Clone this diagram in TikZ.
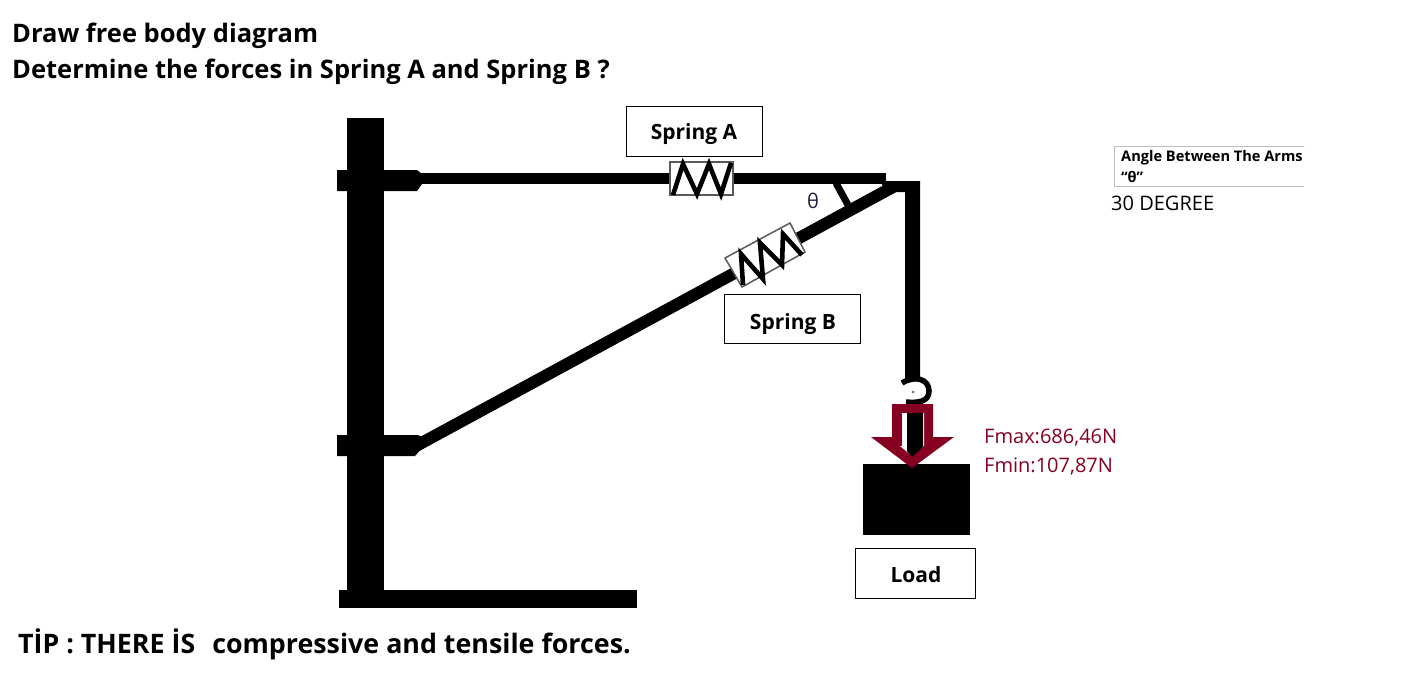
\documentclass[tikz,border=0pt]{standalone}
\usepackage{fontspec}
\setmainfont{Open Sans}
\definecolor{arrowred}{RGB}{134,0,33}
\tikzset{
  label box/.style={draw=black,line width=1pt,fill=white,font=\bfseries\fontsize{21}{25}\selectfont,text=black},
  solid part/.style={fill=black,draw=none},
  heading/.style={anchor=west,inner sep=0pt,font=\bfseries\fontsize{25.5}{30}\selectfont},
  spring box/.style={draw=black!65,line width=1.5pt,fill=white},
  coil/.style={draw=black,line width=4.6pt,line join=miter},
  force text/.style={anchor=west,inner sep=0pt,text=arrowred,font=\fontsize{20}{24}\selectfont}
}
\begin{document}
\begin{tikzpicture}[x=1pt,y=-1pt]
\useasboundingbox (0,0) rectangle (1416,672);
\node[heading] (t1) at (12,36) {Draw free body diagram};
\node[heading] (t2) at (12,72) {Determine the forces in Spring A and Spring B ?};
% frame
\fill[solid part] (347,118) rectangle (384,608);
\fill[solid part] (339,590) rectangle (637,608);
\fill[solid part] (337,170) -- (417,170) -- (422,174) -- (422,184) -- (417,191) -- (337,191) -- cycle;
\fill[solid part] (337,435) -- (417,435) -- (428,438) -- (422,448) -- (415,456) -- (337,456) -- cycle;
% upper arm
\fill[solid part] (420,173) rectangle (886,184);
% lower arm
\draw[black,line width=12pt] (416,446) -- (893,187);
% right arm
\fill[solid part] (880,181) -- (920,181) -- (920,380) -- (905,380) -- (905,192) -- (886,192) -- cycle;
% tick
\draw[black,line width=7pt] (836,183) -- (848,205);
% spring A
\draw[spring box] (670,162) rectangle (733,195);
\draw[coil] (673,195) -- (683,164) -- (697,194) -- (709,164) -- (721,194) -- (731,163);
% spring B
\draw[spring box] (725,258) -- (790,223) -- (805,252) -- (742,287) -- cycle;
\draw[coil] (743,285) -- (741,254) -- (763,279) -- (760,243) -- (782,265) -- (783,234) -- (802,255);
% hook
\draw[black,line width=5.5pt] (902,383) .. controls (915,375) and (929,379) .. (929,391) .. controls (929,402) and (918,403) .. (906,402);
\fill[black!55] (913,392) circle (1.5pt);
% load
\fill[solid part] (863,464) rectangle (970,535);
% red arrow
\fill[arrowred] (892,404) -- (933,404) -- (933,437) -- (954,437) -- (912,468) -- (871,437) -- (892,437) -- cycle;
\fill[white] (902,413) -- (924,413) -- (924,446) -- (912,456) -- (900,446) -- (902,446) -- cycle;
\fill[solid part] (907,413) -- (923,413) -- (923,447) -- (912,457) -- (907,451) -- cycle;
% labels
\node[label box,minimum width=136pt,minimum height=50pt] (sa) at (694,131) {\smash{\raisebox{-8.3pt}{Spring A}}};
\node[label box,minimum width=136pt,minimum height=49pt] (sb) at (792,319) {\hspace{2pt}\smash{\raisebox{-10.3pt}{Spring B}}};
\node[label box,minimum width=120pt,minimum height=50pt] (load) at (915,573) {\hspace{2pt}\smash{\raisebox{-9.5pt}{Load}}};
\node[inner sep=0pt,font=\fontsize{20}{24}\selectfont,text={rgb,255:red,30;green,30;blue,60}] (theta) at (813,201) {θ};
\node[force text] (fmax) at (984,438) {Fmax:686,46N};
\node[force text] (fmin) at (984,466) {Fmin:107,87N};
% angle table
\draw[black!25,line width=1pt] (1304,146) -- (1114.5,146) -- (1114.5,186) -- (1304,186);
\node[anchor=west,inner sep=0pt,font=\bfseries\fontsize{14.6}{18}\selectfont] (ang1) at (1121,158) {Angle Between The Arms};
\node[anchor=west,inner sep=0pt,font=\bfseries\fontsize{14.6}{16}\selectfont] (ang2) at (1121,177) {“θ”};
\node[anchor=west,inner sep=0pt,font=\fontsize{20}{24}\selectfont] (deg) at (1111,203) {30 DEGREE};
\node[anchor=west,inner sep=0pt,font=\bfseries\fontsize{26.8}{30}\selectfont] (tip) at (18,644) {TİP : THERE İS\hspace{17pt}compressive and tensile forces.};
\end{tikzpicture}
\end{document}
